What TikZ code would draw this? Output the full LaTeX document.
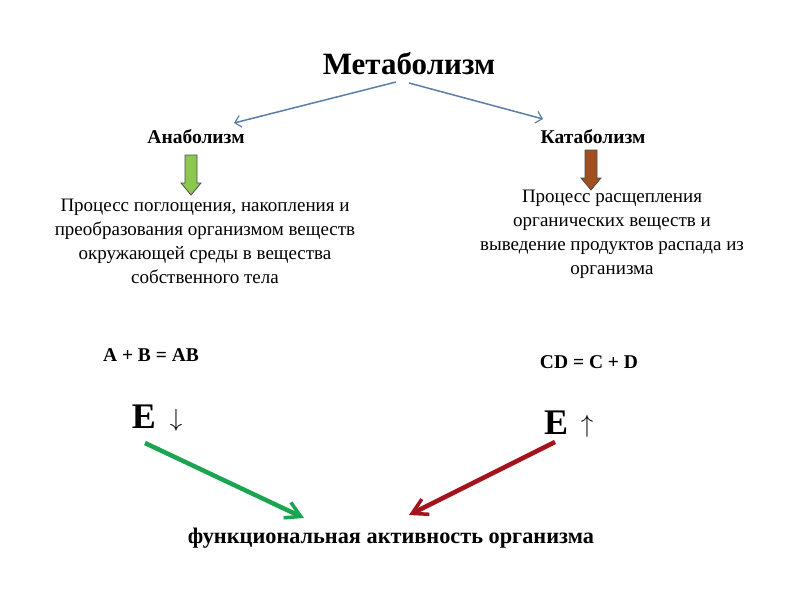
\documentclass[tikz,border=0pt]{standalone}
\usepackage{fontspec}
\setmainfont{Liberation Serif}
\usetikzlibrary{arrows.meta}
\definecolor{bluearr}{HTML}{5A7EA8}
\definecolor{greenarr}{HTML}{1BA550}
\definecolor{redarr}{HTML}{A3141C}
\definecolor{greenfill}{HTML}{8CC850}
\definecolor{browfill}{HTML}{A0501E}
\tikzset{
  title/.style={font=\bfseries\fontsize{31}{36}\selectfont, inner sep=0pt},
  head/.style={font=\bfseries\fontsize{19.5}{23}\selectfont, inner sep=0pt},
  body/.style={font=\fontsize{19}{24}\selectfont, align=center, inner sep=0pt},
  formula/.style={font=\bfseries\fontsize{19.5}{23}\selectfont, inner sep=0pt},
  energy/.style={font=\bfseries\fontsize{36}{40}\selectfont, inner sep=0pt},
  blk/.style={draw=gray!60!black, line width=0.8pt, line join=miter},
  bluecon/.style={draw=bluearr, line width=1.5pt, -{Straight Barb[length=6pt,width=12pt,line width=1.2pt]}},
  thickcon/.style={line width=4.5pt, -{Straight Barb[length=15pt,width=17pt,line width=3.5pt]}},
}
\newcommand{\blockarrow}[4]{% style, x, ytop, name
  \coordinate (#4) at (#2,#3);
  \path[blk,#1] ([xshift=-6]#4) -- ([xshift=6]#4) -- ([xshift=6,yshift=-28]#4) -- ([xshift=10,yshift=-28]#4)
     -- ([yshift=-40]#4) -- ([xshift=-10,yshift=-28]#4) -- ([xshift=-6,yshift=-28]#4) -- cycle;}
\begin{document}
\begin{tikzpicture}[x=1pt,y=-1pt]
\useasboundingbox (0,0) rectangle (800,600);
\fill[white] (0,0) rectangle (800,600);
\node[title] (met) at (409,64) {Метаболизм};
\node[head] (ana) at (196,137) {Анаболизм};
\node[head] (kat) at (593,137) {Катаболизм};
\coordinate (mL) at (396,82);
\coordinate (mR) at (409,83);
\coordinate (aT) at (234,123);
\coordinate (kT) at (543,119);
\draw[bluecon] (mL) -- (aT);
\draw[bluecon] (mR) -- (kT);
\blockarrow{fill=greenfill}{191}{155}{garr}
\blockarrow{fill=browfill}{591}{150}{barr}
\node[body] (atext) at (205,241) {Процесс поглощения, накопления и\\преобразования организмом веществ\\окружающей среды в вещества\\собственного тела};
\node[body] (ktext) at (612,234) {Процесс расщепления\\органических веществ и\\выведение продуктов распада из\\организма};
\node[formula] (f1) at (151,355) {A + B = AB};
\node[formula] (f2) at (589,362) {CD = C + D};
\node[energy, anchor=base] (e1) at (144,428) {E};
\node[anchor=base, inner sep=0pt] (d1) at (176,426) {\fontsize{26}{30}\selectfont$\downarrow$};
\node[energy, anchor=base] (e2) at (556,434) {E};
\node[anchor=base, inner sep=0pt] (u2) at (587,432) {\fontsize{26}{30}\selectfont$\uparrow$};
\node[head, font=\bfseries\fontsize{22.3}{26}\selectfont] (func) at (391,538) {функциональная активность организма};
\coordinate (gS) at (145,443);
\coordinate (gE) at (304,518);
\coordinate (rS) at (555,442);
\coordinate (rE) at (409,515);
\draw[thickcon, draw=greenarr] (gS) -- (gE);
\draw[thickcon, draw=redarr] (rS) -- (rE);
\end{tikzpicture}
\end{document}
